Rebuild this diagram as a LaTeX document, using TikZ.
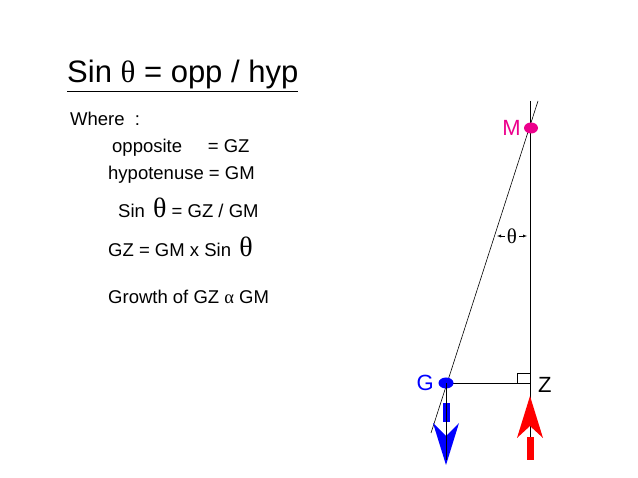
\documentclass[tikz,border=0pt]{standalone}
\usepackage{fontspec}
\setmainfont{Liberation Sans}
\newfontfamily\sym{Liberation Serif}
\begin{document}
\begin{tikzpicture}[x=1pt,y=-1pt,
  txt/.style={anchor=base west,inner sep=0pt,font=\fontsize{18.5}{20}\selectfont},
  thin line/.style={line width=0.6pt}]
\useasboundingbox (0,0) rectangle (638,478);
\node[txt,font=\fontsize{31}{34}\selectfont] (title) at (67,83) {\underline{Sin {\sym θ} = opp / hyp}};
\node[txt] (w) at (70,126) {Where \ :};
\node[txt] (o) at (112,153) {opposite \ \ \ \ = GZ};
\node[txt] (h) at (108,180) {hypotenuse = GM};
\node[txt] (s) at (118,218) {Sin \,{\sym\fontsize{28}{30}\selectfont θ} = GZ / GM};
\node[txt] (g) at (108,257) {GZ = GM x Sin \,{\sym\fontsize{28}{30}\selectfont θ}};
\node[txt] (gr) at (108,304) {Growth of GZ {\sym α} GM};
% geometry
\coordinate (Mt) at (530,101);
\coordinate (M) at (531,128);
\coordinate (G) at (446,383);
\coordinate (Z) at (530,383);
\coordinate (S1) at (538,101);
\coordinate (S2) at (431,433);
\draw[thin line] (Mt) -- (530,440);
\draw[thin line] (S1) -- (S2);
\draw[thin line] (G) -- (Z);
\draw[thin line] (517,383) -- (517,373) -- (530,373);
\fill[magenta] (M) ellipse (7 and 5.5);
\fill[blue] (G) ellipse (7.5 and 5.5);
\node[txt,font=\fontsize{22}{24}\selectfont,text=magenta,anchor=base east] (ml) at (521,136) {M};
\node[txt,font=\fontsize{22}{24}\selectfont,text=blue,anchor=base east] (gl) at (434,391) {G};
\node[txt,font=\fontsize{22}{24}\selectfont] (zl) at (538,393) {Z};
% theta marker
\node[inner sep=0pt,font=\sym\fontsize{21}{21}\selectfont] (th) at (512,236) {θ};
\draw[-latex,line width=0.4pt] (505,236) -- (497,236);
\draw[-latex,line width=0.4pt] (519,236) -- (527,236);
% blue weight arrow
\fill[blue] (443,403) rectangle (450,422);
\fill[blue] (446,465) -- (433,423) -- (446,436) -- (459,423) -- cycle;
\draw[thin line] (446,383) -- (446,460);
% red buoyancy arrow
\fill[red] (527,437) rectangle (534,460);
\fill[red] (530,396) -- (517,438) -- (530,426) -- (543,438) -- cycle;
\end{tikzpicture}
\end{document}
